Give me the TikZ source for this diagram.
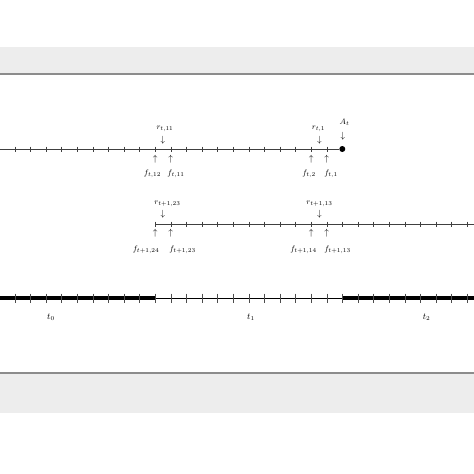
\documentclass[tikz,border=0pt]{standalone}
\usepackage{amsmath}
\begin{document}
\begin{tikzpicture}[x=1pt,y=-1pt,
  lbl/.style={inner sep=0pt,font=\fontsize{8}{9}\selectfont},
  arr/.style={inner sep=0pt,font=\fontsize{9}{10}\selectfont},
  axis/.style={line width=0.5pt,black!75},
  tick/.style={line width=0.4pt,black!75},
  thick axis/.style={line width=4.5pt,black},
  band/.style={fill=black!7,draw=none},
  bandline/.style={line width=1.8pt,black!45}]
\useasboundingbox (0,0) rectangle (474,474);
% gray bands
\fill[band] (0,47) rectangle (474,73.5);
\draw[bandline] (0,74.3) -- (474,74.3);
\fill[band] (0,374) rectangle (474,413);
\draw[bandline] (0,373) -- (474,373);
% line 1
\coordinate (l1a) at (0,149);
\node[circle,fill=black,inner sep=0pt,minimum size=6pt] (At) at (342.3,149) {};
\draw[axis] (l1a) -- (At);
\foreach \k in {0,...,20} \draw[tick] (14.7+15.6*\k,146.5) -- (14.7+15.6*\k,151.5);
\node[lbl] (Atl) at (344.5,122) {$A_t$};
\node[arr] at (343,136) {$\downarrow$};
\node[lbl] (r11) at (165,129) {$r_{t,11}$};
\node[arr] at (163,140) {$\downarrow$};
\node[lbl] (r1) at (318.5,129) {$r_{t,1}$};
\node[arr] at (319.5,140) {$\downarrow$};
\node[arr] at (155.1,159) {$\uparrow$};
\node[arr] at (170.7,159) {$\uparrow$};
\node[arr] at (311.1,159) {$\uparrow$};
\node[arr] at (326.7,159) {$\uparrow$};
\node[lbl] (f12) at (152.5,173.5) {$f_{t,12}$};
\node[lbl] (f11) at (176,173.5) {$f_{t,11}$};
\node[lbl] (f2) at (309,173.5) {$f_{t,2}$};
\node[lbl] (f1) at (331,173.5) {$f_{t,1}$};
% line 2
\coordinate (l2a) at (155.1,224);
\coordinate (l2b) at (474,224);
\draw[axis] (l2a) -- (l2b);
\foreach \k in {9,...,29} \draw[tick] (14.7+15.6*\k,221.5) -- (14.7+15.6*\k,226.5);
\node[lbl] (r23) at (167.5,203.5) {$r_{t+1,23}$};
\node[arr] at (163,214) {$\downarrow$};
\node[lbl] (r13) at (319.5,203.5) {$r_{t+1,13}$};
\node[arr] at (319.5,214) {$\downarrow$};
\node[arr] at (155.1,233.5) {$\uparrow$};
\node[arr] at (170.7,233.5) {$\uparrow$};
\node[arr] at (311.1,233.5) {$\uparrow$};
\node[arr] at (326.7,233.5) {$\uparrow$};
\node[lbl] (f24) at (146,249.5) {$f_{t+1,24}$};
\node[lbl] (f23) at (182.5,249.5) {$f_{t+1,23}$};
\node[lbl] (f14) at (303.5,249.5) {$f_{t+1,14}$};
\node[lbl] (f13) at (337.5,249.5) {$f_{t+1,13}$};
% line 3
\coordinate (l3a) at (0,298);
\coordinate (l3b) at (155.1,298);
\coordinate (l3c) at (342.3,298);
\coordinate (l3d) at (474,298);
\draw[line width=0.7pt,black] (l3b) -- (l3c);
\draw[thick axis] (l3a) -- (l3b);
\draw[thick axis] (l3c) -- (l3d);
\foreach \k in {0,...,29} \draw[line width=0.4pt,black!70] (14.7+15.6*\k,293.5) -- (14.7+15.6*\k,302.5);
\node[lbl,font=\fontsize{9}{10}\selectfont] (t0) at (51,317) {$t_0$};
\node[lbl,font=\fontsize{9}{10}\selectfont] (t1) at (251,317) {$t_1$};
\node[lbl,font=\fontsize{9}{10}\selectfont] (t2) at (426.5,317) {$t_2$};
\end{tikzpicture}
\end{document}
